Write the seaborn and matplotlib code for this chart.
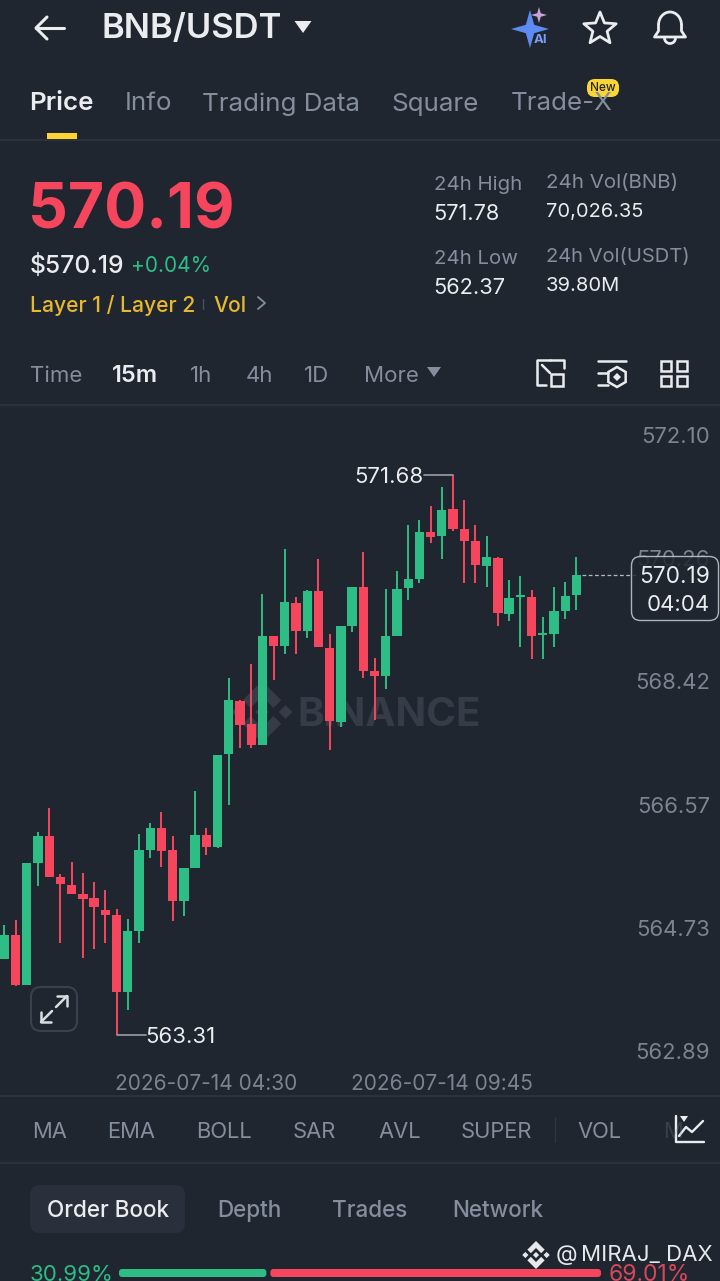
import numpy as np
import pandas as pd
import matplotlib
matplotlib.use("Agg")
import matplotlib.pyplot as plt
from matplotlib.patches import FancyBboxPatch, Polygon, Rectangle, Arc
import seaborn as sns

# candle values (15m candles)
opens = [564.44, 564.80, 564.06, 565.88, 566.29, 565.67, 565.55, 565.42, 565.35, 565.18, 565.10, 563.95, 564.86,
         566.07, 566.40, 566.07, 565.31, 565.80, 566.30, 566.12, 567.51, 568.30, 567.96, 567.65, 569.27, 569.13,
         569.77, 569.35, 569.95, 569.10, 567.99, 569.42, 570.00, 568.75, 568.68, 569.28, 569.99, 570.13, 570.83,
         570.77, 571.17, 570.88, 570.70, 570.32, 570.44, 569.60, 569.85, 569.86, 569.29, 569.30, 569.65, 569.88]
closes = [564.80, 564.06, 565.88, 566.29, 565.67, 565.56, 565.42, 565.34, 565.22, 565.11, 563.95, 564.86, 566.07,
          566.40, 566.06, 565.31, 565.81, 566.30, 566.12, 567.49, 568.31, 567.95, 567.64, 569.28, 569.13, 569.78,
          569.35, 569.95, 569.11, 568.00, 569.42, 570.00, 568.75, 568.67, 569.28, 569.98, 570.12, 570.83, 570.76,
          571.16, 570.88, 570.70, 570.33, 570.45, 569.61, 569.84, 569.88, 569.28, 569.32, 569.64, 569.87, 570.19]
highs = [564.96, 565.03, 565.88, 566.35, 566.70, 565.72, 565.90, 565.73, 565.59, 565.48, 565.20, 565.05, 566.32,
         566.48, 566.64, 566.29, 565.81, 566.96, 566.40, 567.49, 568.64, 568.32, 568.85, 569.90, 569.28, 570.57,
         569.85, 569.96, 570.42, 569.31, 569.43, 570.00, 570.53, 568.95, 569.97, 570.25, 570.93, 571.00, 571.21,
         571.50, 571.68, 571.30, 570.94, 570.77, 570.45, 570.11, 570.17, 569.96, 569.55, 570.00, 570.08, 570.46]
lows = [564.44, 564.04, 564.05, 565.54, 565.67, 564.69, 565.42, 564.46, 564.60, 564.69, 563.31, 563.68, 564.69,
        565.95, 565.82, 565.01, 565.09, 565.80, 566.00, 566.10, 566.74, 567.60, 567.60, 567.64, 568.62, 569.00,
        569.00, 569.24, 569.11, 567.57, 567.92, 569.34, 568.65, 568.02, 568.48, 569.27, 569.81, 570.06, 570.67,
        570.43, 570.85, 570.06, 570.07, 570.00, 569.42, 569.50, 569.11, 568.93, 568.93, 569.11, 569.53, 569.66]

price_ticks = [572.10, 570.26, 568.42, 566.57, 564.73, 562.89]
time_positions = [18, 39]
time_labels = ["2026-07-14 04:30", "2026-07-14 09:45"]
last_price = 570.19
countdown = "04:04"

nav_tabs = ["Price", "Info", "Trading Data", "Square", "Trade-X"]
intervals = ["Time", "15m", "1h", "4h", "1D", "More"]
indicators = ["MA", "EMA", "BOLL", "SAR", "AVL", "SUPER", "VOL"]
book_tabs = ["Order Book", "Depth", "Trades", "Network"]
buy_share = 30.99
sell_share = 69.01

BG = "#1F2630"
GREEN = "#2EBD85"
RED = "#F6465D"
GRAY = "#848E9C"
AXIS_GRAY = "#7C8490"
WHITE = "#EAECEF"
LINE = "#2E3540"
YELLOW = "#E8B92E"

sns.set_theme(style="dark", rc={"axes.facecolor": BG, "figure.facecolor": BG})
plt.rcParams["font.family"] = ["Inter", "DejaVu Sans"]

fig = plt.figure(figsize=(7.2, 12.81), dpi=100)
fig.patch.set_facecolor(BG)


def pixel_axes(z):
    a = fig.add_axes([0, 0, 1, 1], zorder=z)
    a.set_xlim(0, 720)
    a.set_ylim(1281, 0)
    a.axis("off")
    a.patch.set_alpha(0)
    return a


def binance_logo(a, cx, cy, r, color, z=1):
    top = np.array([(0, -1), (.62, -.38), (.37, -.13), (0, -.5), (-.37, -.13), (-.62, -.38)])
    small = np.array([(0, -.22), (.22, 0), (0, .22), (-.22, 0)])
    for pts in [top, top * [1, -1]]:
        a.add_patch(Polygon(pts * r + [cx, cy], color=color, lw=0, zorder=z))
    for dx in [-.76, 0, .76]:
        a.add_patch(Polygon((small + [dx, 0]) * r + [cx, cy], color=color, lw=0, zorder=z))


# watermark sits under the candles
under = pixel_axes(0)
binance_logo(under, 262, 712, 31, "#353C48")
under.text(297, 716, "BINANCE", color="#353C48", fontsize=29, fontweight="bold", va="center", ha="left")

# chart
df = pd.DataFrame({"i": range(len(opens)), "open": opens, "close": closes, "high": highs, "low": lows})
df["up"] = df["close"] >= df["open"]
df["bottom"] = df[["open", "close"]].min(axis=1)
df["body"] = (df["close"] - df["open"]).abs().clip(lower=0.03)

top_px, bot_px = 405, 1068
ax = fig.add_axes([0, (1281 - bot_px) / 1281, 1, (bot_px - top_px) / 1281], zorder=1)
ax.patch.set_alpha(0)

for up, color in [(True, GREEN), (False, RED)]:
    part = df[df["up"] == up]
    ax.vlines(part["i"], part["low"], part["high"], color=color, lw=1.4, zorder=2)
    sns.barplot(data=part, x="i", y="body", bottom=part["bottom"].values, native_scale=True, color=color,
                saturation=1, width=0.83, errorbar=None, linewidth=0, ax=ax, zorder=3)

ax.set_xlim(-0.392, 63.8)
ax.set_ylim(571.68 - (bot_px - 475) / 66.9, 571.68 + (475 - top_px) / 66.9)
ax.set_xlabel("")
ax.set_ylabel("")
ax.yaxis.tick_right()
ax.set_yticks(price_ticks)
ax.set_yticklabels([f"{p:.2f}" for p in price_ticks], ha="right", va="center")
for lab in ax.get_yticklabels():
    lab.set_y(lab.get_position()[1])
ax.tick_params(axis="y", length=0, pad=-7.2, labelsize=15.9, labelcolor=AXIS_GRAY)
ax.set_yticklabels([f"{p:.2f}" for p in price_ticks], ha="right", va="bottom")
ax.set_xticks(time_positions)
ax.set_xticklabels(time_labels)
ax.tick_params(axis="x", length=0, pad=4.2, labelsize=15, labelcolor=AXIS_GRAY)
sns.despine(ax=ax, left=True, right=True, top=True, bottom=True)
ax.grid(False)

# high / low callouts
hi = int(np.argmax(highs))
lo = int(np.argmin(lows))
ax.plot([hi - 2.6, hi], [highs[hi], highs[hi]], color="#9AA0A8", lw=1.2, zorder=2)
ax.plot([lo, lo + 2.6], [lows[lo], lows[lo]], color="#9AA0A8", lw=1.2, zorder=2)
ax.annotate(f"{highs[hi]:.2f}", (hi - 2.6, highs[hi]), xytext=(0, -1.5), textcoords="offset points",
            ha="right", va="center", color=WHITE, fontsize=16)
ax.annotate(f"{lows[lo]:.2f}", (lo + 2.6, lows[lo]), xytext=(0, -1.5), textcoords="offset points",
            ha="left", va="center", color=WHITE, fontsize=16)
ax.plot([51.5, 56.3], [last_price, last_price], color="#B5BAC2", lw=0.9, ls=(0, (3, 2)), zorder=2)

# everything around the chart, in screen pixels
ui = pixel_axes(2)


def txt(x, y, s, size=18, color=GRAY, weight="normal", ha="left", alpha=1.0):
    return ui.text(x, y + 2, s, fontsize=size, color=color, fontweight=weight, ha=ha, va="center", alpha=alpha)


def hline(y, x0=0, x1=720, color=LINE, lw=1.2):
    ui.plot([x0, x1], [y, y], color=color, lw=lw, solid_capstyle="butt")


def tri(cx, cy, w, h, color):
    ui.add_patch(Polygon([(cx - w / 2, cy - h / 2), (cx + w / 2, cy - h / 2), (cx, cy + h / 2)], color=color, lw=0))


# header
ui.plot([36, 64], [28, 28], color=WHITE, lw=2.2)
ui.plot([47, 36, 47], [17, 28, 39], color=WHITE, lw=2.2)
txt(101, 27, "BNB/USDT", 24.9, WHITE, "semibold")
tri(303, 27, 17, 12, WHITE)

spark = np.array([(0, -1), (.22, -.22), (1, 0), (.22, .22), (0, 1), (-.22, .22), (-1, 0), (-.22, -.22)])
ui.add_patch(Polygon(spark * 19 + [530, 29], color="#5E8BF2", lw=0))
ui.add_patch(Polygon(spark * 8 + [539, 15], color="#C9A3D8", lw=0))
txt(540, 38, "AI", 9.5, "#7C9CF5", "bold", ha="center")

ang = np.linspace(-np.pi / 2, 1.5 * np.pi, 11)[:-1]
rad = np.where(np.arange(10) % 2 == 0, 17, 7.5)
ui.add_patch(Polygon(np.c_[600 + rad * np.cos(ang), 29 + rad * np.sin(ang)], fill=False, ec=WHITE, lw=2, joinstyle="round"))

ui.add_patch(Arc((670, 25), 23, 26, theta1=180, theta2=360, color=WHITE, lw=2))
ui.plot([658.5, 658.5, 654.5, 685.5, 681.5, 681.5], [25, 31, 37, 37, 31, 25], color=WHITE, lw=2)
ui.add_patch(Arc((670, 38), 11, 11, theta1=0, theta2=180, color=WHITE, lw=2))

# tabs
tab_x = [29, 125, 202, 391, 511]
for x, s in zip(tab_x, nav_tabs):
    txt(x, 102, s, 18.7, WHITE if s == "Price" else GRAY, "semibold" if s == "Price" else "normal")
ui.add_patch(FancyBboxPatch((587, 79), 32, 18, boxstyle="round,pad=0,rounding_size=8", fc="#FCD535", ec="none"))
txt(603, 86, "New", 8.5, "#1E2329", "medium", ha="center")
ui.add_patch(Rectangle((47, 133), 30, 6, color="#FCD535", lw=0))
hline(139.5)

# price block
txt(28, 210, f"{last_price:.2f}", 45, RED, "bold")
txt(30, 264, f"${last_price:.2f}", 17.8, WHITE, "medium")
txt(131, 264, "+0.04%", 15, GREEN)
txt(30, 304, "Layer 1 / Layer 2", 15.2, YELLOW, "medium")
ui.plot([203, 203], [299, 309], color="#4A4F58", lw=1)
txt(213, 304, "Vol", 15.2, YELLOW, "medium")
ui.plot([258, 265, 258], [297, 303, 309], color=GRAY, lw=1.3)

txt(434, 183, "24h High", 14.7, GRAY)
txt(433, 212, "571.78", 15.7, WHITE)
txt(434, 257, "24h Low", 14.7, GRAY)
txt(433, 286, "562.37", 15.7, WHITE)
txt(546, 181, "24h Vol(BNB)", 14.8, GRAY)
txt(546, 210, "70,026.35", 14.4, WHITE)
txt(546, 255, "24h Vol(USDT)", 14.5, GRAY)
txt(546, 284, "39.80M", 14.5, WHITE)

# interval row
int_x = [30, 112, 190, 246, 304, 364]
for x, s in zip(int_x, intervals):
    txt(x, 374, s, 17 if s == "15m" else 16, WHITE if s == "15m" else GRAY, "semibold" if s == "15m" else "normal")
tri(434, 372, 14, 10, GRAY)

ui.plot([550, 537, 537, 546], [360, 360, 385, 385], color=WHITE, lw=1.8)
ui.plot([550, 564, 564], [360, 360, 368], color=WHITE, lw=1.8)
ui.plot([542, 550], [365, 373], color=WHITE, lw=1.8)
ui.add_patch(Rectangle((551, 374), 12, 12, fill=False, ec=WHITE, lw=1.8))
for y, x0, x1 in [(361, 598, 626), (373, 598, 608), (385, 598, 608)]:
    ui.plot([x0, x1], [y, y], color=WHITE, lw=1.8)
hexa = np.linspace(np.pi / 6, 2 * np.pi + np.pi / 6, 7)[:-1]
ui.add_patch(Polygon(np.c_[617 + 10 * np.cos(hexa), 377 + 10 * np.sin(hexa)], fill=False, ec=WHITE, lw=1.8))
ui.add_patch(Polygon([(617, 373), (621, 377), (617, 381), (613, 377)], color=WHITE, lw=0))
for x in [661, 677]:
    for y in [361, 376]:
        ui.add_patch(Rectangle((x, y), 10, 10, fill=False, ec=WHITE, lw=1.8))
hline(404.5)

# expand button on the chart
ui.add_patch(FancyBboxPatch((31, 987), 46, 44, boxstyle="round,pad=0,rounding_size=10", fc="none", ec="#3A414C", lw=1.5))
ui.plot([56, 67], [1007, 996], color="#DADDE2", lw=1.8)
ui.plot([57, 67, 67], [996, 996, 1006], color="#DADDE2", lw=1.8)
ui.plot([41, 52], [1022, 1011], color="#DADDE2", lw=1.8)
ui.plot([41, 41, 51], [1012, 1022, 1022], color="#DADDE2", lw=1.8)

# last price tag
ui.add_patch(FancyBboxPatch((631.5, 556.5), 87, 64, boxstyle="round,pad=0,rounding_size=9", fc=BG, ec="#C8CCD2",
                            lw=1, alpha=0.85))
txt(710, 575, f"{last_price:.2f}", 16.3, WHITE, ha="right")
txt(710, 603, countdown, 16, WHITE, ha="right")

# indicators
hline(1095.5)
ind_x = [32, 107, 196, 293, 378, 461, 577]
for x, s in zip(ind_x, indicators):
    txt(x, 1130, s, 15.8, GRAY)
txt(663, 1130, "M", 15.8, GRAY, alpha=0.25)
ui.plot([555, 555], [1117, 1142], color=LINE, lw=1)
ui.plot([676, 676, 704], [1116, 1142, 1142], color=WHITE, lw=1.7)
ui.plot([679, 686, 692, 703], [1136, 1127, 1132, 1121], color=WHITE, lw=1.7)
tri(684, 1119, 8, 6, WHITE)
hline(1162.5)

# order book tabs
ui.add_patch(FancyBboxPatch((30, 1185), 155, 48, boxstyle="round,pad=0,rounding_size=10", fc="#2A303B", ec="none"))
book_x = [47, 217, 332, 452]
for x, s in zip(book_x, book_tabs):
    txt(x, 1209, s, 16.2, WHITE if s == "Order Book" else GRAY, "medium")

# buy / sell ratio
total_px = 482
x_mid = 119 + total_px * buy_share / 100
ui.add_patch(FancyBboxPatch((119, 1269), x_mid - 119 - 2, 8, boxstyle="round,pad=0,rounding_size=3", fc=GREEN, ec="none"))
ui.add_patch(FancyBboxPatch((x_mid + 2, 1269), 601 - x_mid - 2, 8, boxstyle="round,pad=0,rounding_size=3", fc=RED, ec="none"))
txt(30, 1273, f"{buy_share:.2f}%", 16, GREEN)
txt(609, 1273, f"{sell_share:.2f}%", 16.5, "#D8475A")

# square watermark
binance_logo(ui, 536, 1255, 14, "#E6E8EB", z=5)
txt(556, 1253, "@", 16, "#E6E8EB")
txt(581, 1253, "MIRAJ_ DAX", 16, "#E6E8EB")

fig.savefig("out.png", dpi=100, facecolor=BG)
